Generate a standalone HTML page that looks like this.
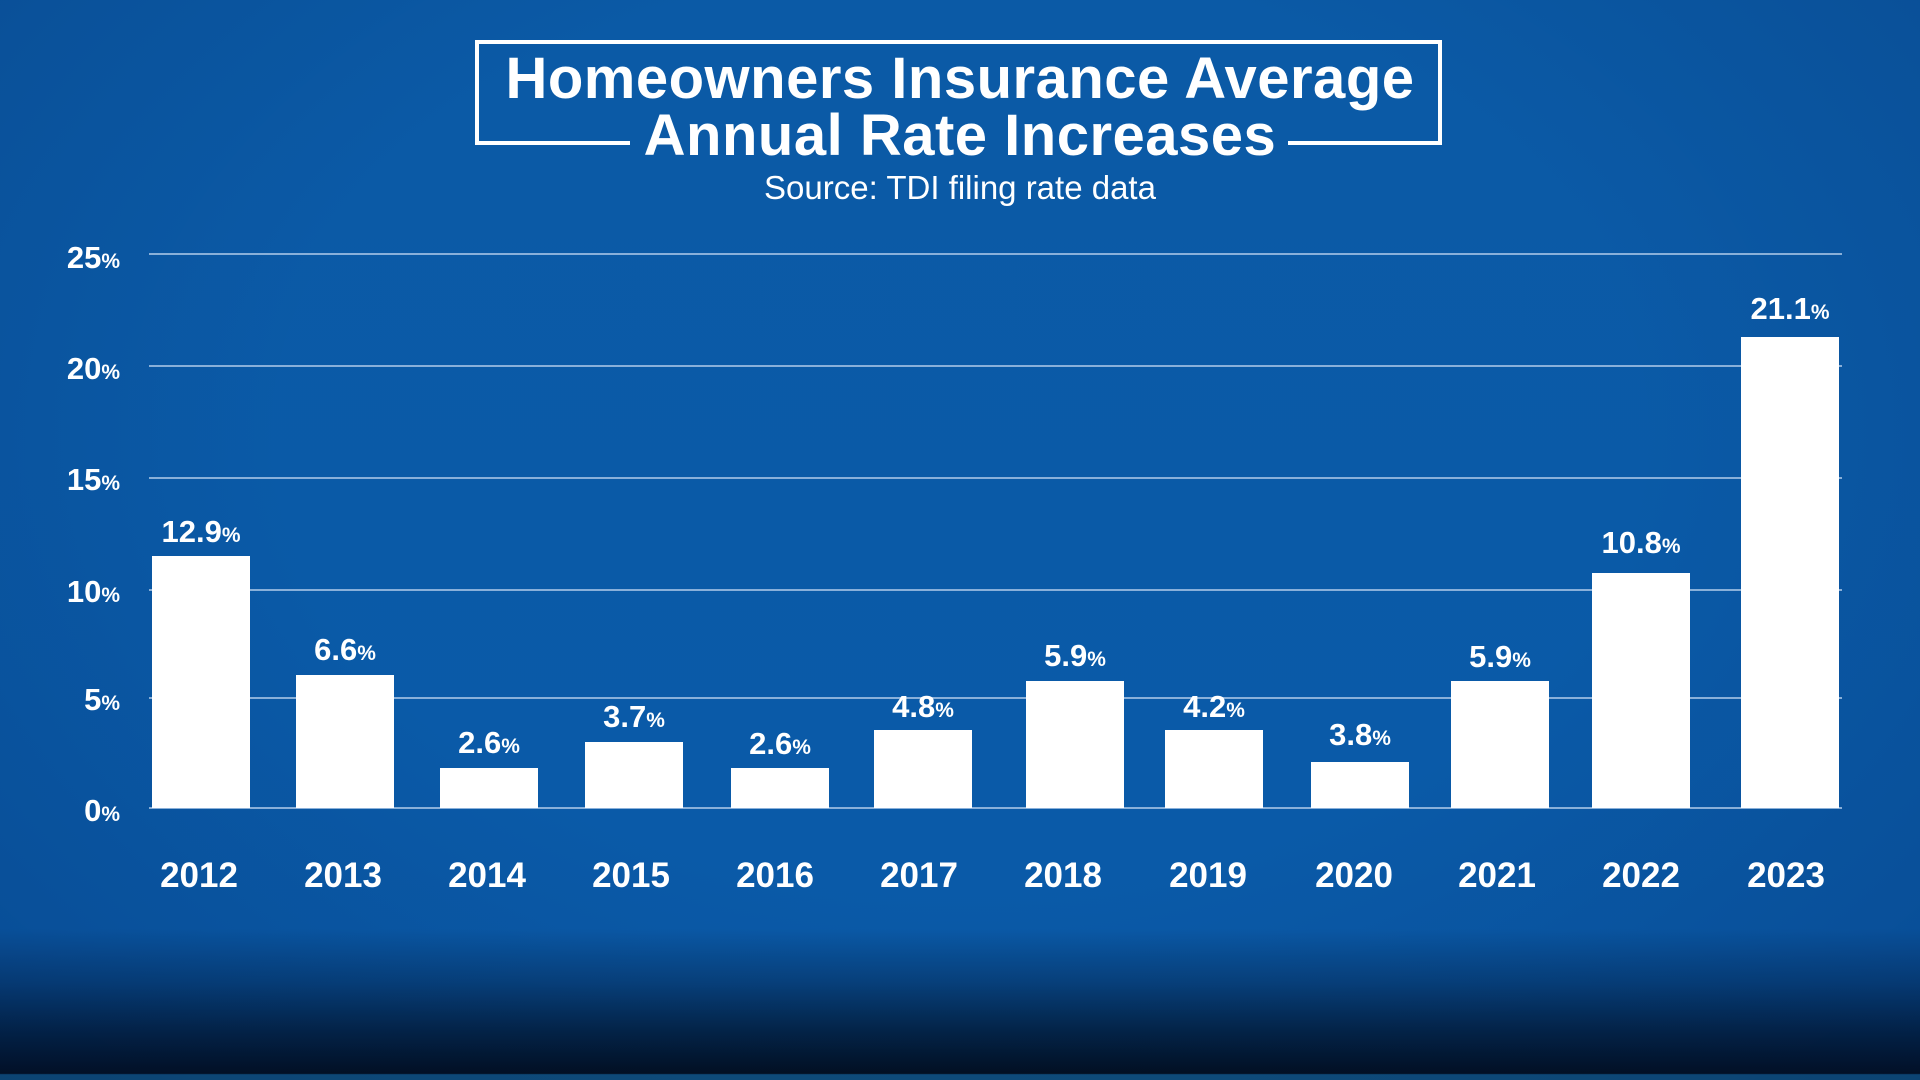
<!DOCTYPE html>
<html><head><meta charset="utf-8"><style>
*{margin:0;padding:0;box-sizing:border-box}
body{width:1920px;height:1080px;overflow:hidden;position:relative;font-family:"Liberation Sans",sans-serif;color:#fff;
background:linear-gradient(to bottom,#0b5aa6 0%,#0a5aa8 86%,#07417c 91%,#032447 95.5%,#020f20 99.4%,#0f4f7e 99.5%);}
.vig{position:absolute;inset:0;background:radial-gradient(ellipse at 50% 40%,rgba(0,0,0,0) 50%,rgba(0,20,70,0.2) 100%);}
.abs{position:absolute}
.grid{position:absolute;left:149px;width:1693px;height:2px;background:rgba(180,205,235,0.75)}
.bar{position:absolute;width:98px;background:#fff;bottom:272px}
.yl{position:absolute;right:1800px;font-weight:bold;font-size:31px;transform:translateY(-50%);white-space:nowrap}
.yl small,.vl small{font-size:21px}
.vl{position:absolute;width:200px;text-align:center;font-weight:bold;font-size:31px;white-space:nowrap}
.yr{position:absolute;top:856px;width:200px;text-align:center;font-weight:bold;font-size:35px}
</style></head><body>
<div class="vig"></div>
<div class="abs" style="left:475px;top:40px;width:967px;height:105px;border:4px solid #fff;border-bottom:none"></div>
<div class="abs" style="left:475px;top:141px;width:155px;height:4px;background:#fff"></div>
<div class="abs" style="left:1288px;top:141px;width:154px;height:4px;background:#fff"></div>
<div class="abs" style="left:0;width:1920px;top:48px;text-align:center;font-weight:bold;font-size:58px;line-height:62px;letter-spacing:0.5px">Homeowners Insurance Average</div>
<div class="abs" style="left:0;width:1920px;top:105px;text-align:center;font-weight:bold;font-size:58px;line-height:62px;letter-spacing:0.5px">Annual Rate Increases</div>
<div class="abs" style="left:0;width:1920px;top:169px;text-align:center;font-size:33px;line-height:38px">Source: TDI filing rate data</div>

<div class="grid" style="top:253px"></div>
<div class="grid" style="top:365px"></div>
<div class="grid" style="top:477px"></div>
<div class="grid" style="top:589px"></div>
<div class="grid" style="top:697px"></div>
<div class="grid" style="top:807px"></div>

<div class="yl" style="top:258px">25<small>%</small></div>
<div class="yl" style="top:369px">20<small>%</small></div>
<div class="yl" style="top:480px">15<small>%</small></div>
<div class="yl" style="top:592px">10<small>%</small></div>
<div class="yl" style="top:700px">5<small>%</small></div>
<div class="yl" style="top:811px">0<small>%</small></div>

<div class="bar" style="left:152px;top:556px"></div>
<div class="bar" style="left:296px;top:675px"></div>
<div class="bar" style="left:440px;top:768px"></div>
<div class="bar" style="left:585px;top:742px"></div>
<div class="bar" style="left:731px;top:768px"></div>
<div class="bar" style="left:874px;top:730px"></div>
<div class="bar" style="left:1026px;top:681px"></div>
<div class="bar" style="left:1165px;top:730px"></div>
<div class="bar" style="left:1311px;top:762px"></div>
<div class="bar" style="left:1451px;top:681px"></div>
<div class="bar" style="left:1592px;top:573px"></div>
<div class="bar" style="left:1741px;top:337px"></div>

<div class="vl" style="left:101px;top:514px">12.9<small>%</small></div>
<div class="vl" style="left:245px;top:632px">6.6<small>%</small></div>
<div class="vl" style="left:389px;top:725px">2.6<small>%</small></div>
<div class="vl" style="left:534px;top:699px">3.7<small>%</small></div>
<div class="vl" style="left:680px;top:726px">2.6<small>%</small></div>
<div class="vl" style="left:823px;top:689px">4.8<small>%</small></div>
<div class="vl" style="left:975px;top:638px">5.9<small>%</small></div>
<div class="vl" style="left:1114px;top:689px">4.2<small>%</small></div>
<div class="vl" style="left:1260px;top:717px">3.8<small>%</small></div>
<div class="vl" style="left:1400px;top:639px">5.9<small>%</small></div>
<div class="vl" style="left:1541px;top:525px">10.8<small>%</small></div>
<div class="vl" style="left:1690px;top:291px">21.1<small>%</small></div>

<div class="yr" style="left:99px">2012</div>
<div class="yr" style="left:243px">2013</div>
<div class="yr" style="left:387px">2014</div>
<div class="yr" style="left:531px">2015</div>
<div class="yr" style="left:675px">2016</div>
<div class="yr" style="left:819px">2017</div>
<div class="yr" style="left:963px">2018</div>
<div class="yr" style="left:1108px">2019</div>
<div class="yr" style="left:1254px">2020</div>
<div class="yr" style="left:1397px">2021</div>
<div class="yr" style="left:1541px">2022</div>
<div class="yr" style="left:1686px">2023</div>
</body></html>
